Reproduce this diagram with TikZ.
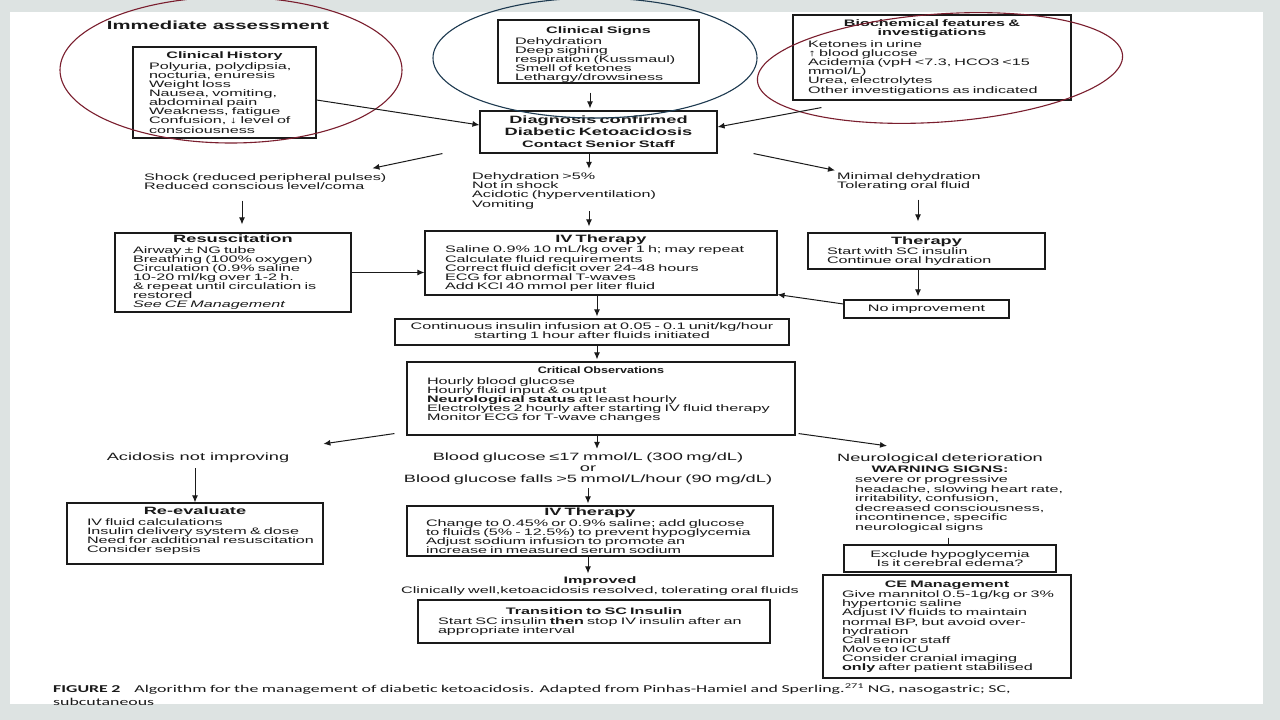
\documentclass[tikz,border=0pt]{standalone}
\usepackage{fontspec}
\setmainfont[FakeStretch=1.72]{Liberation Sans}
\newfontfamily\narrowsans[FakeStretch=1.34]{Liberation Sans}
\newfontfamily\capfont[FakeStretch=1.7]{Carlito}
\usetikzlibrary{arrows.meta}
\definecolor{ink}{HTML}{1A1A1A}
\definecolor{assessred}{HTML}{7A1E2E}
\definecolor{signsblue}{HTML}{1D3A50}
\definecolor{pagegray}{HTML}{DDE3E2}
\newcommand{\dkabody}{\fontsize{9.4}{9.1}\selectfont}
\newcommand{\dkabig}{\fontsize{10.6}{11}\selectfont}
\newcommand{\hd}[1]{{\centering\bfseries #1\par}\vspace{1.5pt}}

\begin{document}
\begin{tikzpicture}[x=1pt, y=-1pt,
  dkbox/.style={draw=ink, line width=1.1pt, font=\dkabody, text=ink, align=left, inner xsep=1pt, inner ysep=0pt},
  ctrbox/.style={dkbox, align=center},
  lbl/.style={font=\dkabody, text=ink, align=left, inner sep=0pt},
  arr/.style={-{Latex[length=7pt,width=6pt]}, line width=1pt, draw=ink},
  ring/.style={line width=1.1pt}
]
  \useasboundingbox (0,0) rectangle (1280,720);
  % page
  \fill[pagegray] (0,0) rectangle (1280,720);
  \fill[white] (10,12) rectangle (1263,704);

  % Immediate assessment
  \node[font=\fontsize{11.8}{12}\selectfont\bfseries, text=ink, inner sep=0pt] (assess) at (218,25) {Immediate assessment};
  \node[dkbox, text width=181pt, minimum height=91pt] (hist) at (224.5,92.5)
    {\hd{Clinical History}\leftskip=15pt Polyuria, polydipsia,\\ nocturia, enuresis\\ Weight loss\\ Nausea, vomiting,\\ abdominal pain\\ Weakness, fatigue\\ Confusion, ↓ level of\\ consciousness\par};
  \node[dkbox, text width=199pt, minimum height=63pt] (signs) at (598.5,51.5)
    {\hd{Clinical Signs}\leftskip=16pt Dehydration\\ Deep sighing\\ respiration (Kussmaul)\\ Smell of ketones\\ Lethargy/drowsiness\par\vspace*{-6pt}};
  \node[dkbox, text width=276pt, minimum height=85pt] (bio) at (932,57.5)
    {{\centering\bfseries Biochemical features \&\\ investigations\par}\vspace{2.5pt}\leftskip=14pt Ketones in urine\\ ↑ blood glucose\\ Acidemia (vpH <7.3, HCO3 <15\\ mmol/L)\\ Urea, electrolytes\\ Other investigations as indicated\par};
  \node[ctrbox, text width=235pt, minimum height=42pt] (dka) at (598.5,132)
    {\dkabig\bfseries Diagnosis confirmed\\[1pt] Diabetic Ketoacidosis\\[3pt] \dkabody\bfseries Contact Senior Staff};

  \draw[assessred, ring] (231,70) ellipse (171 and 73);
  \draw[signsblue, ring] (595,58) ellipse (162 and 60);
  \draw[assessred, ring, rotate around={4:(940,68)}] (940,68) ellipse (183 and 54);

  \draw[arr] ([yshift=-7.5pt]hist.east) -- ([yshift=7pt]dka.west);
  \draw[arr, shorten >=2pt] ([xshift=-8.5pt, yshift=-9pt]signs.south) -- ([xshift=-8.5pt]dka.north);
  \draw[arr] ([xshift=29pt, yshift=-7pt]bio.south west) -- ([yshift=5pt]dka.east);

  % three branches
  \node[lbl, text width=250pt, anchor=west] (shock) at (144,181.5) {Shock (reduced peripheral pulses)\\ Reduced conscious level/coma};
  \node[lbl, text width=200pt, anchor=west] (dehyd) at (472,191) {Dehydration >5\%\\ Not in shock\\ Acidotic (hyperventilation)\\ Vomiting};
  \node[lbl, text width=150pt, anchor=west] (minimal) at (837,181.5) {Minimal dehydration\\ Tolerating oral fluid};

  \draw[arr] ([xshift=-37pt]dka.south west) -- ([xshift=-22pt, yshift=5pt]shock.north east);
  \draw[arr, shorten >=4pt] ([xshift=-9.5pt]dka.south) -- ([xshift=-9.5pt]dka.south |- dehyd.north);
  \draw[arr] ([xshift=36pt]dka.south east) -- ([xshift=-2pt, yshift=2pt]minimal.north west);

  \node[dkbox, text width=234pt, minimum height=79pt] (resus) at (233,272.5)
    {\hd{\dkabig Resuscitation}\leftskip=17pt Airway ± NG tube\\ Breathing (100\% oxygen)\\ Circulation (0.9\% saline\\ 10-20 ml/kg over 1-2 h.\\ \& repeat until circulation is\\ restored\\ \textit{See CE Management}\par};
  \node[dkbox, text width=350pt, minimum height=64pt] (iv1) at (601,263)
    {\hd{\dkabig IV Therapy}\leftskip=19pt Saline 0.9\% 10 mL/kg over 1 h; may repeat\\ Calculate fluid requirements\\ Correct fluid deficit over 24-48 hours\\ ECG for abnormal T-waves\\ Add KCl 40 mmol per liter fluid\par};
  \node[dkbox, text width=235pt, minimum height=36pt] (ther) at (926.5,251)
    {\hd{\dkabig Therapy}\leftskip=18pt Start with SC insulin\\ Continue oral hydration\par};
  \node[ctrbox, text width=163pt, minimum height=18pt] (noimp) at (926.5,309) {No improvement};

  \draw[arr, shorten <=11pt, shorten >=8pt] ([xshift=9pt]resus.north |- shock.south) -- ([xshift=9pt]resus.north);
  \draw[arr, shorten <=2pt, shorten >=4pt] ([xshift=-12pt]iv1.north |- dehyd.south) -- ([xshift=-12pt]iv1.north);
  \draw[arr, shorten <=9pt, shorten >=11pt] ([xshift=-8.5pt]ther.north |- minimal.south) -- ([xshift=-8.5pt]ther.north);
  \draw[arr] (resus.east) -- (resus.east -| iv1.west);
  \draw[arr, shorten >=3pt] ([xshift=-8.5pt]ther.south) -- ([xshift=-8.5pt]noimp.north);
  \draw[arr] ([yshift=5pt]noimp.west) -- ([yshift=1pt]iv1.south east);

  % insulin and observations
  \node[ctrbox, text width=392pt, minimum height=26pt] (insul) at (592,332)
    {Continuous insulin infusion at 0.05 - 0.1 unit/kg/hour\\ starting 1 hour after fluids initiated};
  \node[dkbox, text width=386pt, minimum height=73pt] (crit) at (601,398.5)
    {\hd{\narrowsans Critical Observations}\leftskip=19pt Hourly blood glucose\\ Hourly fluid input \& output\\ \textbf{Neurological status} at least hourly\\ Electrolytes 2 hourly after starting IV fluid therapy\\ Monitor ECG for T-wave changes\par\vspace*{7pt}};

  \draw[arr, shorten >=2pt] ([xshift=-4pt]iv1.south) -- ([xshift=-4pt]iv1.south |- insul.north);
  \draw[arr, shorten >=2pt] ([xshift=5pt]insul.south) -- ([xshift=-4pt]crit.north);

  % lower branches
  \node[lbl, font=\dkabig] (acid) at (198,458) {Acidosis not improving};
  \node[lbl, align=center, text width=400pt, font=\fontsize{10.6}{11}\selectfont] (glu) at (588,469)
    {Blood glucose ≤17 mmol/L (300 mg/dL)\\ or\\ Blood glucose falls >5 mmol/L/hour (90 mg/dL)};
  \node[lbl, align=center, text width=220pt] (neuro) at (940,463.5)
    {\dkabig Neurological deterioration\\[2pt] \dkabody\bfseries WARNING SIGNS:};
  \node[lbl, text width=215pt, anchor=west, font=\fontsize{9.4}{9.6}\selectfont] (warn) at (855,504)
    {severe or progressive\\ headache, slowing heart rate,\\ irritability, confusion,\\ decreased consciousness,\\ incontinence, specific\\ neurological signs};

  \draw[arr] ([xshift=-12pt, yshift=2pt]crit.south west) -- ([xshift=34pt, yshift=9pt]acid.north east);
  \draw[arr] ([xshift=3pt, yshift=2pt]crit.south east) -- ([xshift=-53pt, yshift=8pt]neuro.north);
  \draw[arr, shorten >=4pt] ([xshift=-4pt]crit.south) -- ([xshift=-4pt]crit.south |- glu.north);

  \node[dkbox, text width=254pt, minimum height=61pt] (reeval) at (195,533.5)
    {\hd{\dkabig Re-evaluate}\leftskip=19pt IV fluid calculations\\ Insulin delivery system \& dose\\ Need for additional resuscitation\\ Consider sepsis\par\vspace*{5pt}};
  \node[dkbox, text width=364pt, minimum height=50pt] (iv2) at (590,531)
    {\hd{\dkabig IV Therapy}\leftskip=18pt Change to 0.45\% or 0.9\% saline; add glucose\\ to fluids (5\% - 12.5\%) to prevent hypoglycemia\\ Adjust sodium infusion to promote an\\ increase in measured serum sodium\par};
  \node[lbl, align=center, text width=420pt, font=\fontsize{9.4}{10}\selectfont] (improved) at (600,586)
    {\textbf{Improved}\\ Clinically well,ketoacidosis resolved, tolerating oral fluids};
  \node[dkbox, text width=350pt, minimum height=43pt] (trans) at (594,621.5)
    {\hd{Transition to SC Insulin}\leftskip=19pt Start SC insulin \textbf{then} stop IV insulin after an\\ appropriate interval\par};
  \node[ctrbox, text width=210pt, minimum height=27pt] (excl) at (950,558.5)
    {Exclude hypoglycemia\\ Is it cerebral edema?};
  \node[dkbox, text width=246pt, minimum height=103pt] (ce) at (947,626.5)
    {\hd{CE Management}\leftskip=18pt Give mannitol 0.5-1g/kg or 3\%\\ hypertonic saline\\ Adjust IV fluids to maintain\\ normal BP, but avoid over-\\ hydration\\ Call senior staff\\ Move to ICU\\ Consider cranial imaging\\ \textbf{only} after patient stabilised\par};

  \draw[arr, shorten <=5pt] (reeval.north |- acid.south) -- (reeval.north);
  \draw[arr, shorten <=3pt, shorten >=2pt] ([xshift=-2pt]iv2.north |- glu.south) -- ([xshift=-2pt]iv2.north);
  \draw[arr, shorten >=3pt] ([xshift=-2pt]iv2.south) -- ([xshift=-2pt]iv2.south |- improved.north);
  \draw[ink, line width=1pt, shorten <=5pt] ([xshift=-2pt]excl.north |- warn.south) -- ([xshift=-2pt]excl.north);

  % caption
  \node[font=\capfont\fontsize{10.5}{13}\selectfont, text=ink, align=left, anchor=north west, inner sep=0pt, text width=1150pt] (caption) at (53,684)
    {\textbf{FIGURE 2}\hspace{14pt}Algorithm for the management of diabetic ketoacidosis. Adapted from Pinhas-Hamiel and Sperling.\textsuperscript{271} NG, nasogastric; SC,\\ subcutaneous};
\end{tikzpicture}
\end{document}
